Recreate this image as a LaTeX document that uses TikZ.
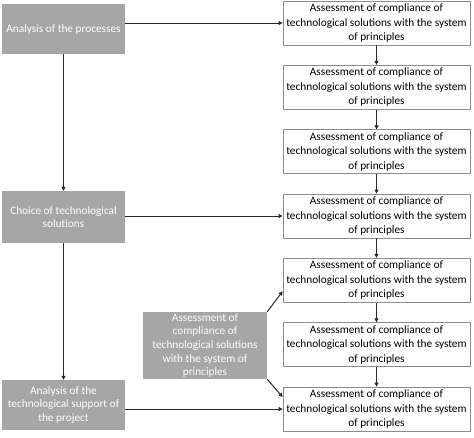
\documentclass[tikz,border=0pt]{standalone}
\usepackage{fontspec}
\setmainfont{Carlito}
\usetikzlibrary{positioning,arrows.meta}
\definecolor{stagegray}{RGB}{166,166,166}
\definecolor{edgegray}{RGB}{140,140,140}
\definecolor{linkgray}{RGB}{40,40,40}
\newcommand{\compliance}{Assessment of compliance of\\technological solutions with the system\\of principles}
\tikzset{
  stage/.style={fill=stagegray,text=white,align=center,minimum width=123pt,inner sep=1pt,font=\fontsize{11.3}{13.6}\selectfont},
  check/.style={draw=edgegray,line width=0.8pt,fill=white,align=center,minimum width=187pt,minimum height=44pt,inner sep=1pt,font=\fontsize{11.3}{14.4}\selectfont},
  flow/.style={line width=1pt,draw=linkgray,-{Triangle[length=4pt,width=4pt]}}
}
\begin{document}
\begin{tikzpicture}[x=1pt,y=-1pt]
  \useasboundingbox (0,0) rectangle (474,437);
  % stages on the left
  \node[stage,minimum height=50pt] (proc) at (63.5,29) {Analysis of the processes};
  \node[stage,minimum height=52pt] (choice) at (63.5,217) {Choice of technological\\solutions};
  \node[stage,minimum height=50pt] (support) at (63.5,405) {Analysis of the\\technological support of\\the project};
  \node[stage,minimum width=124pt,minimum height=67pt] (assess) at (205,345.5) {Assessment of\\compliance of\\technological solutions\\with the system of\\principles};
  % assessment column
  \node[check] (chk1) at (376.5,23) {\compliance}; \node[check] (chk2) at (376.5,87.3) {\compliance};
  \node[check] (chk3) at (376.5,151.7) {\compliance}; \node[check] (chk4) at (376.5,216) {\compliance};
  \node[check] (chk5) at (376.5,280.3) {\compliance}; \node[check] (chk6) at (376.5,344.7) {\compliance};
  \node[check] (chk7) at (376.5,409) {\compliance};
  % links
  \draw[flow] (proc.south) -- (choice.north); \draw[flow] (choice.south) -- (support.north);
  \draw[flow] (proc.east |- chk1) -- (chk1.west);
  \draw[flow] (choice.east |- chk4) -- (chk4.west);
  \draw[flow] (support.east |- chk7) -- (chk7.west);
  \draw[flow] (chk1) -- (chk2); \draw[flow] (chk2) -- (chk3); \draw[flow] (chk3) -- (chk4);
  \draw[flow] (chk4) -- (chk5); \draw[flow] (chk5) -- (chk6); \draw[flow] (chk6) -- (chk7);
  \draw[flow] (assess.north east) -- ([yshift=-11pt]chk5.west);
  \draw[flow] (assess.south east) -- ([yshift=12pt]chk7.west);
\end{tikzpicture}
\end{document}
